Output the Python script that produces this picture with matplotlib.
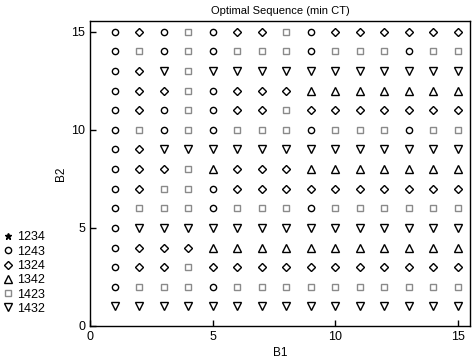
import numpy as np
import matplotlib
matplotlib.use("Agg")
import matplotlib.pyplot as plt

plt.rcParams['font.family'] = ['Liberation Sans', 'DejaVu Sans']

# optimal sequence per grid cell, one string per B2 row (B2 = 1..15), B1 = 1..15 left to right
# o=1243, d=1324, t=1342, s=1423, v=1432
rows = [
    "vvvvvvvvvvvvvvv",  # B2 = 1
    "osssossssssssss",  # 2
    "oddsddddddddddd",  # 3
    "odddttttttttttt",  # 4
    "ovvvvvvvvvvvvvv",  # 5
    "osssosssossssss",  # 6
    "odssodddddddddd",  # 7
    "oddstdddttttttt",  # 8
    "odvvvvvvvvvvvvv",  # 9
    "osososssosssoss",  # 10
    "odosoddsddddddd",  # 11
    "oddsodddttttttt",  # 12
    "odvsvvvvvvvvvvv",  # 13
    "osososssosssoss",  # 14
    "odosoddsodddddd",  # 15
]
b1_vals = np.arange(1, 16)
b2_vals = np.arange(1, 16)

codes = ["a", "o", "d", "t", "s", "v"]
seq_labels = ["1234", "1243", "1324", "1342", "1423", "1432"]

# marker styles per sequence
styles = {
    "a": dict(marker="*", color="black"),
    "o": dict(marker="o", color="black"),
    "d": dict(marker="D", color="black"),
    "t": dict(marker="^", color="black"),
    "s": dict(marker="s", color="#8a8a8a"),
    "v": dict(marker="v", color="black"),
}
msize = {"a": 5, "o": 4.5, "d": 4.2, "t": 5.5, "s": 4.8, "v": 5.5}

fig = plt.figure(figsize=(4.74, 3.58), dpi=100)
ax = fig.add_axes([90 / 474, 1 - 326 / 358, 380 / 474, 305 / 358])

grid = np.array([list(r) for r in rows])
B1, B2 = np.meshgrid(b1_vals, b2_vals)

handles = []
for c, lab in zip(codes, seq_labels):
    mask = grid == c
    st = styles[c]
    h, = ax.plot(B1[mask], B2[mask], linestyle="none", marker=st["marker"],
                 markersize=msize[c], markerfacecolor="none" if c != "a" else "black",
                 markeredgecolor=st["color"], markeredgewidth=1.0, label=lab)
    handles.append(h)

ax.set_xlim(0, 15.5)
ax.set_ylim(0, 15.55)
ax.set_xticks([0, 5, 10, 15])
ax.set_yticks([0, 5, 10, 15])
ax.tick_params(direction="in", length=4, labelsize=9, width=1)
for sp in ax.spines.values():
    sp.set_linewidth(1.0)

ax.set_title("Optimal Sequence (min CT)", fontsize=8, pad=5)
ax.set_xlabel("B1", fontsize=8.5, labelpad=3)
ax.set_ylabel("B2", fontsize=8.5, labelpad=3)

fig.legend(handles=handles, loc="upper left", bbox_to_anchor=(0.0, 1 - 229 / 358),
           frameon=False, fontsize=9, handlelength=0.8, handletextpad=0.4,
           labelspacing=0.18, borderaxespad=0.0, borderpad=0.2)

fig.savefig("out.png", dpi=100)
